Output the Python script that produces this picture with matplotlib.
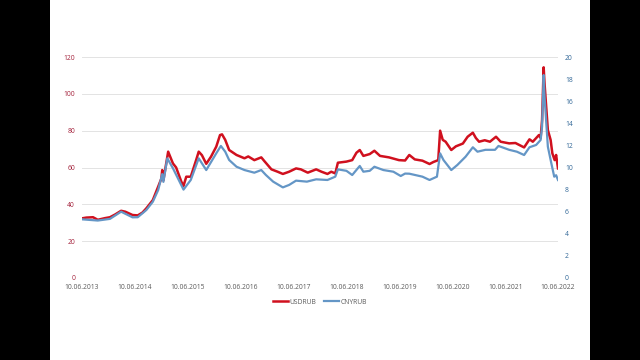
import numpy as np
import pandas as pd
import matplotlib
matplotlib.use('Agg')
import matplotlib.pyplot as plt
import matplotlib.dates as mdates
from matplotlib.patches import Rectangle

usd_dates = [
    '2013-06-10', '2013-07-10', '2013-08-25', '2013-09-27', '2013-11-15', '2013-12-20',
    '2014-01-25', '2014-03-07', '2014-04-05', '2014-05-25', '2014-06-30', '2014-08-01',
    '2014-08-28', '2014-10-12', '2014-11-18', '2014-12-10', '2014-12-16', '2014-12-24',
    '2015-01-26', '2015-02-28', '2015-03-22', '2015-04-27', '2015-05-12', '2015-05-31',
    '2015-07-01', '2015-08-07', '2015-08-25', '2015-09-16', '2015-10-16', '2015-11-18',
    '2015-12-24', '2016-01-19', '2016-02-02', '2016-02-24', '2016-03-22', '2016-05-12',
    '2016-07-06', '2016-08-01', '2016-09-12', '2016-10-30', '2016-11-20', '2017-01-08',
    '2017-02-20', '2017-03-28', '2017-05-10', '2017-06-27', '2017-07-30', '2017-09-16',
    '2017-11-13', '2017-12-20', '2018-01-30', '2018-02-25', '2018-03-25', '2018-04-12',
    '2018-06-10', '2018-07-20', '2018-08-18', '2018-09-10', '2018-10-05', '2018-11-18',
    '2018-12-20', '2019-01-28', '2019-03-31', '2019-06-08', '2019-07-20', '2019-08-18',
    '2019-09-25', '2019-11-17', '2020-01-05', '2020-02-01', '2020-03-05', '2020-03-18',
    '2020-04-05', '2020-04-25', '2020-06-03', '2020-07-05', '2020-08-22', '2020-09-24',
    '2020-10-30', '2020-11-20', '2020-12-12', '2021-01-20', '2021-02-25', '2021-04-08',
    '2021-05-10', '2021-07-08', '2021-08-20', '2021-10-19', '2021-11-25', '2021-12-18',
    '2022-01-29', '2022-02-10', '2022-02-20', '2022-03-03', '2022-03-09', '2022-04-01',
    '2022-04-20', '2022-05-02', '2022-05-18', '2022-05-28', '2022-06-10',
]
usd_values = [
    32.4, 32.8, 33.0, 31.6, 32.5, 33.0,
    34.5, 36.5, 36.0, 34.2, 34.0, 35.5,
    37.8, 42.3, 49.6, 54.0, 58.6, 53.0,
    68.6, 62.2, 60.0, 52.3, 50.0, 55.0,
    55.0, 64.0, 68.6, 66.7, 62.0, 65.9,
    71.3, 77.6, 78.0, 75.0, 69.5, 66.8,
    65.0, 66.0, 64.0, 65.5, 63.5, 59.0,
    57.7, 56.5, 57.7, 59.5, 59.0, 57.2,
    59.0, 57.7, 56.5, 57.7, 56.8, 62.6,
    63.2, 64.0, 68.0, 69.5, 66.3, 67.3,
    69.1, 66.3, 65.5, 64.0, 63.8, 66.8,
    64.4, 63.7, 61.9, 63.0, 64.0, 80.0,
    75.0, 74.0, 69.5, 71.5, 73.0, 76.7,
    78.9, 76.0, 74.0, 74.8, 74.0, 76.7,
    74.0, 73.1, 73.3, 70.9, 75.3, 74.0,
    77.6, 76.0, 85.8, 114.4, 105.7, 80.3,
    75.0, 67.7, 64.0, 66.8, 59.5,
]

cny_dates = [
    '2013-06-10', '2013-09-27', '2013-12-20', '2014-03-07', '2014-05-25', '2014-06-30',
    '2014-08-28', '2014-10-12', '2014-11-18', '2014-12-16', '2014-12-24', '2015-01-20',
    '2015-02-28', '2015-05-12', '2015-07-01', '2015-08-25', '2015-10-16', '2015-12-24',
    '2016-01-25', '2016-02-24', '2016-03-22', '2016-05-12', '2016-07-06', '2016-09-12',
    '2016-10-30', '2016-12-01', '2017-01-20', '2017-03-28', '2017-05-10', '2017-06-27',
    '2017-09-10', '2017-11-13', '2018-01-30', '2018-03-25', '2018-04-12', '2018-06-10',
    '2018-07-20', '2018-09-10', '2018-10-05', '2018-11-18', '2018-12-20', '2019-02-20',
    '2019-04-30', '2019-06-20', '2019-07-20', '2019-08-18', '2019-11-17', '2020-01-05',
    '2020-02-25', '2020-03-18', '2020-04-10', '2020-06-03', '2020-07-15', '2020-09-10',
    '2020-10-30', '2020-12-01', '2021-01-25', '2021-04-01', '2021-04-25', '2021-07-08',
    '2021-08-30', '2021-10-19', '2021-11-25', '2022-01-10', '2022-02-10', '2022-02-20',
    '2022-03-03', '2022-03-09', '2022-04-01', '2022-04-25', '2022-05-15', '2022-05-28',
    '2022-06-10',
]
cny_values = [
    5.31, 5.20, 5.35, 6.00, 5.49, 5.50,
    6.15, 6.90, 7.96, 9.40, 8.70, 10.83,
    9.93, 8.00, 8.87, 10.83, 9.77, 11.28,
    11.95, 11.43, 10.68, 10.07, 9.77, 9.53,
    9.77, 9.32, 8.72, 8.20, 8.42, 8.81,
    8.72, 8.93, 8.87, 9.17, 9.83, 9.70,
    9.32, 10.14, 9.62, 9.70, 10.07, 9.77,
    9.62, 9.23, 9.45, 9.44, 9.17, 8.87,
    9.17, 11.28, 10.68, 9.77, 10.23, 10.98,
    11.83, 11.43, 11.60, 11.60, 11.95, 11.60,
    11.43, 11.13, 11.83, 12.04, 12.49, 13.70,
    18.37, 16.40, 11.88, 10.38, 9.17, 9.30,
    8.87,
]

left_ticks = [0, 20, 40, 60, 80, 100, 120]
right_ticks = [0, 2, 4, 6, 8, 10, 12, 14, 16, 18, 20]
tick_years = list(range(2013, 2023))

red = '#d0101e'
blue = '#6496c6'
font = ['Open Sans', 'DejaVu Sans']
plt.rcParams['font.family'] = font

fig = plt.figure(figsize=(6.4, 3.6), dpi=100, facecolor='black')
# white slide area between the black side bars
fig.patches.append(Rectangle((50 / 640, 0), 540 / 640, 1, transform=fig.transFigure,
                             facecolor='white', edgecolor='none', zorder=-10))

ax = fig.add_axes([82 / 640, 1 - 278 / 360, 476 / 640, 221 / 360])
ax.set_facecolor('none')
ax2 = ax.twinx()
ax2.set_facecolor('none')

ux = pd.to_datetime(usd_dates)
cx = pd.to_datetime(cny_dates)
l1, = ax.plot(ux, usd_values, color=red, lw=1.8, label='USDRUB')
l2, = ax2.plot(cx, cny_values, color=blue, lw=1.6, label='CNYRUB')

ax.set_ylim(0, 120)
ax.set_yticks(left_ticks)
ax2.set_ylim(0, 20)
ax2.set_yticks(right_ticks)
ax.set_xlim(pd.Timestamp('2013-06-10'), pd.Timestamp('2022-06-10'))
ax.set_xticks([pd.Timestamp(f'{y}-06-10') for y in tick_years])
ax.xaxis.set_major_formatter(mdates.DateFormatter('%d.%m.%Y'))

ax.grid(axis='y', color='#e3e3e3', lw=0.7)
ax.set_axisbelow(True)
for a in (ax, ax2):
    for s in a.spines.values():
        s.set_visible(False)
    a.tick_params(length=0, labelsize=4.9)
ax.tick_params(axis='y', pad=5, labelcolor='#a3203a')
ax.tick_params(axis='x', pad=4, labelcolor='#5a5a5a')
ax2.tick_params(axis='y', pad=5, labelcolor='#2f6596')

fig.legend(handles=[l1, l2], loc='center', bbox_to_anchor=(320 / 640, 1 - 302 / 360),
           ncol=2, frameon=False, fontsize=4.9, handlelength=2.2, handletextpad=0.2,
           columnspacing=1.2, labelcolor='#5a5a5a')

fig.savefig('out.png', dpi=100, facecolor='black')
